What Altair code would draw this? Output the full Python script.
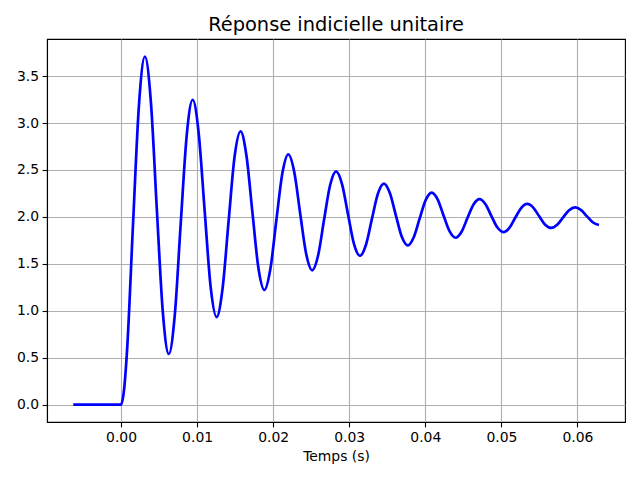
import altair as alt
import pandas as pd

# Time points (s)
t = [-0.00628, 0.0, 0.00039,
     0.00079, 0.00157, 0.00236, 0.00314, 0.00393, 0.00471, 0.00550, 0.00628,
     0.00707, 0.00785, 0.00864, 0.00942, 0.01021, 0.01100, 0.01178, 0.01257,
     0.01335, 0.01414, 0.01492, 0.01571, 0.01649, 0.01728, 0.01806, 0.01885,
     0.01963, 0.02042, 0.02121, 0.02199, 0.02278, 0.02356, 0.02435, 0.02513,
     0.02592, 0.02670, 0.02749, 0.02827, 0.02906, 0.02985, 0.03063, 0.03142,
     0.03220, 0.03299, 0.03377, 0.03456, 0.03534, 0.03613, 0.03691, 0.03770,
     0.03848, 0.03927, 0.04006, 0.04084, 0.04163, 0.04241, 0.04320, 0.04398,
     0.04477, 0.04555, 0.04634, 0.04712, 0.04791, 0.04869, 0.04948, 0.05027,
     0.05105, 0.05184, 0.05262, 0.05341, 0.05419, 0.05498, 0.05576, 0.05655,
     0.05733, 0.05812, 0.05890, 0.05969, 0.06048, 0.06126, 0.06205, 0.06283]

# Response values
y = [0.0, 0.0, 0.151,
     0.572, 1.908, 3.194, 3.709, 3.220, 2.079, 0.980, 0.539,
     0.957, 1.932, 2.872, 3.248, 2.891, 2.058, 1.255, 0.933,
     1.238, 1.951, 2.637, 2.912, 2.651, 2.042, 1.456, 1.221,
     1.444, 1.964, 2.465, 2.666, 2.476, 2.031, 1.602, 1.431,
     1.594, 1.974, 2.340, 2.486, 2.347, 2.022, 1.710, 1.584,
     1.703, 1.981, 2.248, 2.355, 2.254, 2.016, 1.788, 1.696,
     1.783, 1.986, 2.181, 2.259, 2.185, 2.012, 1.845, 1.778,
     1.842, 1.990, 2.132, 2.189, 2.135, 2.009, 1.887, 1.838,
     1.884, 1.993, 2.097, 2.138, 2.099, 2.006, 1.917, 1.882,
     1.916, 1.995, 2.071, 2.101, 2.072, 2.005, 1.940, 1.914]

x_ticks = [0.0, 0.01, 0.02, 0.03, 0.04, 0.05, 0.06]
y_ticks = [0.0, 0.5, 1.0, 1.5, 2.0, 2.5, 3.0, 3.5]

df = pd.DataFrame({"t": t, "y": y})

FONT = "DejaVu Sans"

chart = alt.Chart(df).mark_line(
    color="#0000ff", strokeWidth=2.7, interpolate="monotone", clip=True
).encode(
    x=alt.X("t:Q",
            scale=alt.Scale(domain=[-0.00973, 0.06625], nice=False, zero=False),
            axis=alt.Axis(values=x_ticks, format=".2f", title="Temps (s)")),
    y=alt.Y("y:Q",
            scale=alt.Scale(domain=[-0.1855, 3.8955], nice=False, zero=False),
            axis=alt.Axis(values=y_ticks, format=".1f", title=None)),
).properties(
    width=578,
    height=383,
    background="white",
    title=alt.TitleParams("Réponse indicielle unitaire", font=FONT, fontSize=19.4,
                          fontWeight="normal", color="black", anchor="middle",
                          offset=4),
    autosize=alt.AutoSizeParams(type="none"),
    padding={"left": 39, "top": 31, "right": 7, "bottom": 50},
).configure_view(
    stroke="black", strokeWidth=1.1
).configure_axis(
    grid=True, gridColor="#b0b0b0", gridWidth=1.1,
    domain=True, domainColor="black", domainWidth=1.1,
    ticks=True, tickColor="black", tickSize=4.9, tickWidth=1.1,
    labelFont=FONT, labelFontSize=13.9, labelColor="black", labelPadding=3.5,
    titleFont=FONT, titleFontSize=13.9, titleFontWeight="normal", titleColor="black",
    titlePadding=5, labelFlush=False, labelOverlap=False,
)

chart.save("out.html", embed_options={"renderer": "svg", "actions": False})
